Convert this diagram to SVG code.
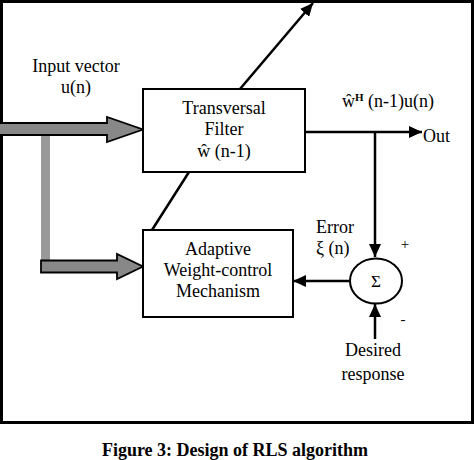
<svg xmlns="http://www.w3.org/2000/svg" width="474" height="460" viewBox="0 0 474 460">
<style>
text{font-family:"Liberation Serif","Times New Roman",serif;font-size:18px;fill:#000}
.box{fill:#fff;stroke:#000;stroke-width:2}
.ln{fill:none;stroke:#000;stroke-width:2.5}
.fat{fill:#888;stroke:#000;stroke-width:1.8;stroke-linejoin:miter}
.cap{font-weight:bold}
</style>
<defs>
<marker id="ah" markerUnits="userSpaceOnUse" markerWidth="13" markerHeight="12" refX="13" refY="6" orient="auto">
<path d="M0,0 L13,6 L0,12 z" fill="#000"/>
</marker>
</defs>
<rect x="0" y="0" width="474" height="460" fill="#fff"/>
<rect x="1.5" y="1.5" width="471" height="421" fill="none" stroke="#000" stroke-width="3"/>
<g id="connectors">
<rect x="41" y="135" width="9" height="127" fill="#999"/>
<path class="fat" d="M0,123 L107,123 L107,117 L143,129.5 L107,142 L107,135 L0,135"/>
<path class="fat" d="M41,260.5 L117,260.5 L117,254 L143,266.5 L117,279 L117,272.5 L41,272.5 z"/>
<path class="ln" d="M152,230 L189,172 L240,89 L313,3" marker-end="url(#ah)"/>
<path class="ln" d="M305,132 L422,132" marker-end="url(#ah)"/>
<path class="ln" d="M375,132 L375,257" marker-end="url(#ah)"/>
<path class="ln" d="M350,281 L293,281" marker-end="url(#ah)"/>
<path class="ln" d="M375,339 L375,304" marker-end="url(#ah)"/>
</g>
<g id="filter">
<rect class="box" x="143" y="89" width="162" height="83"/>
<text x="224" y="114" text-anchor="middle">Transversal</text>
<text x="224" y="135" text-anchor="middle">Filter</text>
<text x="224" y="157" text-anchor="middle">ŵ (n-1)</text>
</g>
<g id="adaptive">
<rect class="box" x="143" y="230" width="150" height="87"/>
<text x="218" y="255" text-anchor="middle">Adaptive</text>
<text x="218" y="276" text-anchor="middle">Weight-control</text>
<text x="218" y="297" text-anchor="middle">Mechanism</text>
</g>
<g id="sum">
<ellipse cx="376" cy="281" rx="26" ry="22.5" fill="#fff" stroke="#000" stroke-width="2"/>
<text x="376" y="287" text-anchor="middle" style="font-size:17px">Σ</text>
</g>
<g id="labels">
<text x="76" y="72" text-anchor="middle">Input vector</text>
<text x="76" y="93" text-anchor="middle">u(n)</text>
<text x="342" y="107">ŵ<tspan dy="-6" style="font-size:11px;font-weight:bold">H</tspan><tspan dy="6"> (n-1)u(n)</tspan></text>
<text x="423" y="142">Out</text>
<text x="316" y="233">Error</text>
<text x="316" y="254">ξ (n)</text>
<text x="405" y="249" text-anchor="middle" style="font-size:15px">+</text>
<text x="403" y="324" text-anchor="middle" style="font-size:15px">-</text>
<text x="373" y="356" text-anchor="middle">Desired</text>
<text x="373" y="380" text-anchor="middle">response</text>
<text class="cap" x="235" y="456" text-anchor="middle">Figure 3: Design of RLS algorithm</text>
</g>
</svg>
